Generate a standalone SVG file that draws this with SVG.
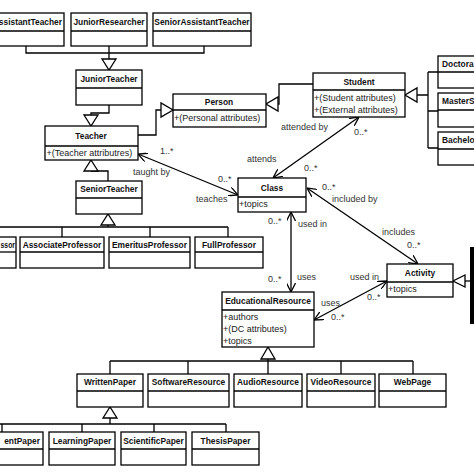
<svg xmlns="http://www.w3.org/2000/svg" width="474" height="474" viewBox="0 0 474 474">
<defs>
<style>
.box{fill:#fff;stroke:#000;stroke-width:1.3}
.sep{stroke:#000;stroke-width:1.3}
.t{font-family:"Liberation Sans",Arial,sans-serif;font-size:8.4px;font-weight:bold;text-anchor:middle;fill:#111}
.te{font-family:"Liberation Sans",Arial,sans-serif;font-size:8.4px;font-weight:bold;text-anchor:end;fill:#111}
.ts{font-family:"Liberation Sans",Arial,sans-serif;font-size:8.4px;font-weight:bold;fill:#111}
.a{font-family:"Liberation Sans",Arial,sans-serif;font-size:9px;fill:#222}
.l{font-family:"Liberation Sans",Arial,sans-serif;font-size:9px;fill:#333}
.ln{fill:none;stroke:#000;stroke-width:1.3}
.tri{fill:#fff;stroke:#000;stroke-width:1.3}
</style>
<marker id="arr" viewBox="0 0 10 10" refX="10" refY="5" markerWidth="9" markerHeight="9" markerUnits="userSpaceOnUse" orient="auto-start-reverse">
<path d="M0,0 L10,5 L0,10" fill="none" stroke="#000" stroke-width="1.4"/>
</marker>
</defs>
<rect width="474" height="474" fill="#fff"/>

<g id="connectors">
<path class="ln" d="M26,46 V53 H204 V46 M109,46 V59"/>
<polygon class="tri" points="102,59 116,59 109,70"/>
<path class="ln" d="M109,105 V113 H91 V115"/>
<polygon class="tri" points="84,115 98,115 91,126"/>
<path class="ln" d="M138,135 H156 V110 H161"/>
<polygon class="tri" points="161,103 161,117 173,110"/>
<path class="ln" d="M313,84 H279 V104 H278"/>
<polygon class="tri" points="278,97 278,111 266,104"/>
<path class="ln" d="M417,95 H428 M428,72 V148 M428,72 H438 M428,111 H438 M428,148 H438"/>
<polygon class="tri" points="417,88 417,102 405,95"/>
<path class="ln" d="M108,181 V171 H91"/>
<polygon class="tri" points="84,171 98,171 91,160"/>
<path class="ln" d="M108,225 V227 M-5,227 H228 M62,227 V237 M150,227 V237 M228,227 V237"/>
<polygon class="tri" points="101,225 115,225 108,214"/>
<path class="ln" d="M268,359 V361 M110,361 H413 M110,361 V374 M188,361 V374 M268,361 V374 M341,361 V374 M413,361 V374"/>
<polygon class="tri" points="261,359 275,359 268,347"/>
<path class="ln" d="M110,418 V424 M-5,424 H226 M2,424 V432 M82,424 V432 M154,424 V432 M226,424 V432"/>
<polygon class="tri" points="103,418 117,418 110,407"/>
<path class="ln" d="M465,281 H471"/>
<polygon class="tri" points="465,275 465,287 453,281"/>
<rect x="470" y="247" width="6" height="77" fill="#000"/>
<path class="ln" d="M138,154 L238,195" marker-start="url(#arr)" marker-end="url(#arr)"/>
<path class="ln" d="M359,117 L273,178" marker-start="url(#arr)" marker-end="url(#arr)"/>
<path class="ln" d="M307,188 L418,264" marker-start="url(#arr)" marker-end="url(#arr)"/>
<path class="ln" d="M291,212 L291,292" marker-start="url(#arr)" marker-end="url(#arr)"/>
<path class="ln" d="M314,320 L387,281" marker-start="url(#arr)" marker-end="url(#arr)"/>
<text class="l" x="160" y="154">1..*</text>
<text class="l" x="133" y="175">taught by</text>
<text class="l" x="218" y="182">0..*</text>
<text class="l" x="196" y="202">teaches</text>
<text class="l" x="281" y="130">attended by</text>
<text class="l" x="354" y="135">0..*</text>
<text class="l" x="247" y="162">attends</text>
<text class="l" x="304" y="171">0..*</text>
<text class="l" x="322" y="190">0..*</text>
<text class="l" x="332" y="202">included by</text>
<text class="l" x="382" y="235">includes</text>
<text class="l" x="407" y="248">0..*</text>
<text class="l" x="268" y="224">0..*</text>
<text class="l" x="298" y="227">used in</text>
<text class="l" x="268" y="282">0..*</text>
<text class="l" x="297" y="280">uses</text>
<text class="l" x="321" y="306">uses</text>
<text class="l" x="331" y="320">0..*</text>
<text class="l" x="350" y="280">used in</text>
<text class="l" x="367" y="300">0..*</text>
</g>

<g id="AssistantTeacher"><rect class="box" x="-10" y="13" width="74" height="33"/><line class="sep" x1="-10" y1="31" x2="64" y2="31"/><text class="te" x="62" y="25">ssistantTeacher</text></g>
<g id="JuniorResearcher"><rect class="box" x="71" y="13" width="76" height="33"/><line class="sep" x1="71" y1="31" x2="147" y2="31"/><text class="t" x="109" y="25">JuniorResearcher</text></g>
<g id="SeniorAssistantTeacher"><rect class="box" x="153" y="13" width="98" height="33"/><line class="sep" x1="153" y1="31" x2="251" y2="31"/><text class="t" x="202" y="25">SeniorAssistantTeacher</text></g>
<g id="JuniorTeacher"><rect class="box" x="76" y="70" width="66" height="35"/><line class="sep" x1="76" y1="88" x2="142" y2="88"/><text class="t" x="109" y="82">JuniorTeacher</text></g>
<g id="Teacher"><rect class="box" x="45" y="126" width="93" height="34"/><line class="sep" x1="45" y1="146" x2="138" y2="146"/><text class="t" x="91" y="139">Teacher</text><text class="a" x="46.5" y="156">+(Teacher attributres)</text></g>
<g id="Person"><rect class="box" x="173" y="94" width="93" height="33"/><line class="sep" x1="173" y1="110" x2="266" y2="110"/><text class="t" x="219" y="105">Person</text><text class="a" x="174" y="121">+(Personal attributes)</text></g>
<g id="Student"><rect class="box" x="313" y="73" width="92" height="44"/><line class="sep" x1="313" y1="90" x2="405" y2="90"/><text class="t" x="359" y="85">Student</text><text class="a" x="314" y="101">+(Student attributes)</text><text class="a" x="314" y="113">+(External attributes)</text></g>
<g id="DoctoralStudent"><rect class="box" x="438" y="56" width="50" height="32"/><line class="sep" x1="438" y1="72" x2="488" y2="72"/><text class="ts" x="442" y="67">Doctora</text></g>
<g id="MasterStudent"><rect class="box" x="438" y="93" width="50" height="34"/><line class="sep" x1="438" y1="110" x2="488" y2="110"/><text class="ts" x="442" y="104">MasterS</text></g>
<g id="BachelorStudent"><rect class="box" x="438" y="132" width="50" height="33"/><line class="sep" x1="438" y1="149" x2="488" y2="149"/><text class="ts" x="442" y="143">Bachelo</text></g>
<g id="SeniorTeacher"><rect class="box" x="76" y="181" width="66" height="33"/><line class="sep" x1="76" y1="198" x2="142" y2="198"/><text class="t" x="109" y="192">SeniorTeacher</text></g>
<g id="AssistantProfessor"><rect class="box" x="-10" y="237" width="26" height="31"/><line class="sep" x1="-10" y1="252" x2="16" y2="252"/><text class="ts" x="0.5" y="248" textLength="14.5" lengthAdjust="spacingAndGlyphs">ssor</text></g>
<g id="AssociateProfessor"><rect class="box" x="20" y="237" width="84" height="31"/><line class="sep" x1="20" y1="252" x2="104" y2="252"/><text class="t" x="62" y="248">AssociateProfessor</text></g>
<g id="EmeritusProfessor"><rect class="box" x="109" y="237" width="81" height="31"/><line class="sep" x1="109" y1="252" x2="190" y2="252"/><text class="t" x="149.5" y="248">EmeritusProfessor</text></g>
<g id="FullProfessor"><rect class="box" x="195" y="237" width="68" height="31"/><line class="sep" x1="195" y1="252" x2="263" y2="252"/><text class="t" x="229" y="248">FullProfessor</text></g>
<g id="Class"><rect class="box" x="238" y="178" width="68" height="34"/><line class="sep" x1="238" y1="197" x2="306" y2="197"/><text class="t" x="272" y="191">Class</text><text class="a" x="239" y="207">+topics</text></g>
<g id="Activity"><rect class="box" x="387" y="264" width="66" height="33"/><line class="sep" x1="387" y1="282" x2="453" y2="282"/><text class="t" x="420" y="276">Activity</text><text class="a" x="388" y="292">+topics</text></g>
<g id="EducationalResource"><rect class="box" x="222" y="292" width="92" height="55"/><line class="sep" x1="222" y1="310" x2="314" y2="310"/><text class="t" x="268" y="304">EducationalResource</text><text class="a" x="223" y="320">+authors</text><text class="a" x="223" y="332">+(DC attributes)</text><text class="a" x="223" y="344">+topics</text></g>
<g id="WrittenPaper"><rect class="box" x="77" y="374" width="66" height="33"/><line class="sep" x1="77" y1="391" x2="143" y2="391"/><text class="t" x="110" y="385">WrittenPaper</text></g>
<g id="SoftwareResource"><rect class="box" x="148" y="374" width="81" height="33"/><line class="sep" x1="148" y1="391" x2="229" y2="391"/><text class="t" x="188.5" y="385">SoftwareResource</text></g>
<g id="AudioResource"><rect class="box" x="234" y="374" width="68" height="33"/><line class="sep" x1="234" y1="391" x2="302" y2="391"/><text class="t" x="268" y="385">AudioResource</text></g>
<g id="VideoResource"><rect class="box" x="307" y="374" width="68" height="33"/><line class="sep" x1="307" y1="391" x2="375" y2="391"/><text class="t" x="341" y="385">VideoResource</text></g>
<g id="WebPage"><rect class="box" x="379" y="374" width="67" height="33"/><line class="sep" x1="379" y1="391" x2="446" y2="391"/><text class="t" x="412.5" y="385">WebPage</text></g>
<g id="AssignmentPaper"><rect class="box" x="-10" y="432" width="53" height="33"/><line class="sep" x1="-10" y1="449" x2="43" y2="449"/><text class="te" x="40" y="444">entPaper</text></g>
<g id="LearningPaper"><rect class="box" x="49" y="432" width="66" height="33"/><line class="sep" x1="49" y1="449" x2="115" y2="449"/><text class="t" x="82" y="444">LearningPaper</text></g>
<g id="ScientificPaper"><rect class="box" x="121" y="432" width="65" height="33"/><line class="sep" x1="121" y1="449" x2="186" y2="449"/><text class="t" x="153.5" y="444">ScientificPaper</text></g>
<g id="ThesisPaper"><rect class="box" x="192" y="432" width="67" height="33"/><line class="sep" x1="192" y1="449" x2="259" y2="449"/><text class="t" x="225.5" y="444">ThesisPaper</text></g>
</svg>
